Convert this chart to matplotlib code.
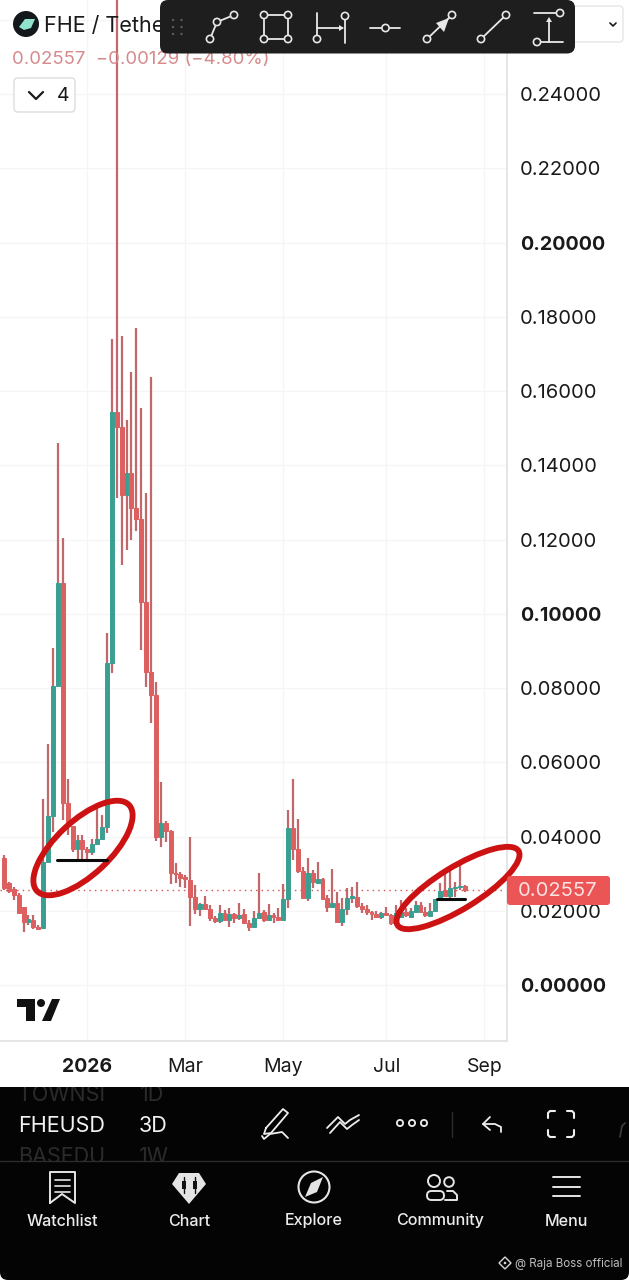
"""FHE/USDT 3D candlestick chart, mobile TradingView screenshot style."""

import matplotlib
matplotlib.use("Agg")
import matplotlib.pyplot as plt
import pandas as pd
from matplotlib.patches import Circle, Ellipse, FancyBboxPatch, Polygon, Rectangle

plt.rcParams["font.family"] = ["Inter", "DejaVu Sans"]

UP = "#3a9f91"
DOWN = "#de5f60"
WICK = "#c0686c"
GRID = "#f5f5f5"
BORDER = "#e2e2e2"

opens = [
    .0342, .0275, .0259, .0242, .0210, .0170, .0175, .0156, .0154, .0331,
    .0455, .0805, .1083, .0490, .0428, .0366, .0391, .0366, .0358, .0380,
    .0393, .0426, .0867, .1543, .1503, .1320, .1379, .1285, .1255, .1032,
    .0843, .0781, .0399, .0436, .0415, .0302, .0299, .0291, .0283, .0237,
    .0205, .0218, .0205, .0180, .0172, .0194, .0175, .0191, .0180, .0191,
    .0167, .0156, .0180, .0197, .0175, .0189, .0183, .0175, .0232, .0423,
    .0366, .0307, .0234, .0302, .0275, .0286, .0234, .0210, .0221, .0170,
    .0205, .0234, .0237, .0213, .0205, .0197, .0191, .0183, .0194, .0189,
    .0167, .0183, .0197, .0183, .0197, .0215, .0197, .0186, .0199, .0232,
    .0256, .0240, .0261, .0264, .0267,
]
highs = [
    .0350, .0277, .0264, .0248, .0210, .0189, .0189, .0162, .0501, .0649,
    .0908, .1460, .1204, .0555, .0428, .0404, .0404, .0372, .0393, .0482,
    .0458, .0948, .1740, .2800, .1748, .1522, .1651, .1770, .1554, .1325,
    .1638, .0816, .0547, .0442, .0418, .0329, .0304, .0296, .0399, .0269,
    .0221, .0240, .0215, .0186, .0215, .0202, .0207, .0194, .0221, .0205,
    .0175, .0199, .0302, .0202, .0218, .0194, .0207, .0272, .0471, .0555,
    .0447, .0318, .0342, .0310, .0331, .0288, .0242, .0312, .0250, .0234,
    .0261, .0264, .0277, .0221, .0215, .0199, .0199, .0197, .0210, .0191,
    .0215, .0229, .0207, .0207, .0226, .0224, .0210, .0221, .0232, .0275,
    .0304, .0310, .0277, .0331, .0269,
]
lows = [
    .0256, .0248, .0229, .0194, .0143, .0162, .0151, .0148, .0154, .0331,
    .0412, .0805, .0444, .0404, .0358, .0339, .0339, .0337, .0350, .0380,
    .0391, .0409, .0840, .1312, .1131, .1172, .1199, .1223, .0902, .0803,
    .0706, .0388, .0372, .0385, .0272, .0275, .0264, .0261, .0159, .0191,
    .0186, .0205, .0172, .0167, .0167, .0172, .0156, .0167, .0175, .0164,
    .0145, .0156, .0180, .0170, .0172, .0167, .0172, .0175, .0207, .0337,
    .0302, .0234, .0226, .0261, .0275, .0229, .0197, .0207, .0167, .0159,
    .0189, .0221, .0207, .0194, .0189, .0175, .0180, .0178, .0186, .0162,
    .0162, .0180, .0183, .0180, .0197, .0194, .0183, .0186, .0197, .0232,
    .0237, .0234, .0237, .0256, .0250,
]
closes = [
    .0261, .0253, .0242, .0194, .0170, .0178, .0156, .0151, .0331, .0455,
    .0805, .1083, .0490, .0428, .0366, .0391, .0366, .0358, .0380, .0393,
    .0426, .0867, .1543, .1503, .1320, .1379, .1285, .1255, .1032, .0843,
    .0781, .0399, .0436, .0415, .0302, .0299, .0288, .0286, .0237, .0205,
    .0218, .0205, .0180, .0172, .0194, .0175, .0191, .0180, .0189, .0167,
    .0156, .0180, .0194, .0175, .0189, .0183, .0175, .0232, .0423, .0366,
    .0307, .0234, .0302, .0277, .0286, .0232, .0210, .0221, .0170, .0205,
    .0234, .0240, .0213, .0205, .0197, .0191, .0183, .0194, .0189, .0167,
    .0194, .0197, .0189, .0199, .0215, .0197, .0189, .0199, .0232, .0253,
    .0240, .0261, .0264, .0267, .02557,
]

last_price = 0.02557
price_ticks = [0.00, 0.02, 0.04, 0.06, 0.08, 0.10, 0.12, 0.14, 0.16, 0.18, 0.20, 0.22, 0.24]
bold_prices = [0.00, 0.10, 0.20]
month_ticks = [("2026-01-01", "2026"), ("2026-03-01", "Mar"), ("2026-05-01", "May"),
               ("2026-07-01", "Jul"), ("2026-09-01", "Sep")]

W, H = 629, 1280
fig = plt.figure(figsize=(W / 100, H / 100), dpi=100, facecolor="white")

# chart pane, pixels 0-507 across and 0-1041 down
ax = fig.add_axes([0, (H - 1041) / H, 507 / W, 1041 / H])
ax.set_xlim(-0.816, 102.65)
ax.set_ylim(-0.01508, 0.26532)
ax.set_axisbelow(True)

bars = pd.date_range("2025-11-11", periods=104, freq="3D")
xticks = [int((bars >= pd.Timestamp(d)).argmax()) for d, _ in month_ticks]
ax.set_xticks(xticks)
ax.set_xticklabels([lab for _, lab in month_ticks], fontsize=14, color="#1a1a1a")
ax.get_xticklabels()[0].set_fontweight("bold")
ax.tick_params(axis="x", length=0, pad=12.5)
ax.set_yticks(price_ticks + [0.26])
ax.set_yticklabels([])
ax.tick_params(axis="y", length=0)
ax.grid(True, color=GRID, linewidth=1)
for name, spine in ax.spines.items():
    spine.set_visible(name in ("right", "bottom"))
    spine.set_color(BORDER)
    spine.set_linewidth(1.2)

for p in price_ticks:
    bold = p in bold_prices
    ax.annotate(f"{p:.5f}", (1, p), xycoords=("axes fraction", "data"), xytext=(13, -2),
                textcoords="offset pixels", va="center", ha="left", fontsize=14.2 if bold else 14.5,
                color="#1a1a1a", fontweight="bold" if bold else "normal", annotation_clip=False)

for i, (o, h, l, c) in enumerate(zip(opens, highs, lows, closes)):
    col = UP if c >= o else DOWN
    ax.vlines(i, l, h, color=WICK, linewidth=1.6, zorder=3)
    ax.bar(i, abs(c - o), bottom=min(o, c), width=0.8, color=col, edgecolor=col, linewidth=0.7, zorder=4)

ax.axhline(last_price, color="#d8504f", linewidth=1, dashes=(1, 3), zorder=2)

# screen-space layer for the app chrome and hand drawn marks
ui = fig.add_axes([0, 0, 1, 1], facecolor="none")
ui.set_xlim(0, W)
ui.set_ylim(H, 0)
ui.axis("off")


def line(xs, ys, color="#e8e8e8", lw=1.3, z=10, **kw):
    ui.plot(xs, ys, color=color, linewidth=lw, zorder=z, solid_capstyle="round", **kw)


def knob(x, y, r=3.6, face="#1e1e1e", edge="#e8e8e8", z=11):
    ui.add_patch(Circle((x, y), r, facecolor=face, edgecolor=edge, linewidth=1.2, zorder=z))


def label(x, y, s, size, color="#ffffff", ha="center", z=12, **kw):
    return ui.text(x, y, s, fontsize=size, color=color, ha=ha, va="center", zorder=z, **kw)


# hand drawn ellipses and support lines
ui.add_patch(Ellipse((83, 848), 126, 54, angle=-43, fill=False, edgecolor="#cc1213", linewidth=4.2, zorder=6))
ui.add_patch(Ellipse((458, 888), 142, 42, angle=-31.5, fill=False, edgecolor="#cc1213", linewidth=4.2, zorder=6))
line([57, 107], [860, 860], color="#0a0a0a", lw=2.2, z=7)
line([437, 465], [899, 899], color="#0a0a0a", lw=2.2, z=7)

# header
ui.add_patch(Circle((26, 24), 13, facecolor="#12181c", edgecolor="none", zorder=8))
ui.add_patch(Polygon([(19, 27), (25, 19), (35, 19), (31, 28), (24, 30)], facecolor="#8fe3cf", edgecolor="none", zorder=9))
label(44, 26, "FHE / Tether", 15.5, color="#1a1a1a", ha="left", z=8)
label(12, 59, "0.02557  \u22120.00129 (\u22124.80%)", 13.4, color="#d58a8c", ha="left", z=8)
ui.add_patch(FancyBboxPatch((14, 78), 61, 34, boxstyle="round,pad=0,rounding_size=4", facecolor="white",
                            edgecolor="#dddddd", linewidth=1, zorder=8))
line([29, 36, 43], [92, 99, 92], color="#1a1a1a", lw=1.6, z=9)
label(63.5, 96, "4", 14, color="#1a1a1a", z=9)
ui.add_patch(FancyBboxPatch((560, 6), 63, 36, boxstyle="round,pad=0,rounding_size=4", facecolor="white",
                            edgecolor="#e6e6e6", linewidth=1, zorder=8))
line([610, 613, 616], [23, 26, 23], color="#1a1a1a", lw=1.2, z=9)

# drawing toolbar
ui.add_patch(FancyBboxPatch((160, 0), 415, 53.5, boxstyle="round,pad=0,rounding_size=8", facecolor="#1e1e1e",
                            edgecolor="none", zorder=9))
for gx in (173, 181.5):
    for gy in (20, 27, 34):
        ui.add_patch(Circle((gx, gy), 1.2, facecolor="#5c5c5c", edgecolor="none", zorder=10))
line([210, 217, 234], [39, 22, 15])
for p in [(210, 39), (217, 22), (234, 15)]:
    knob(*p)
line([264, 288, 288, 264, 264], [15, 15, 39, 39, 15])
for p in [(264, 15), (288, 15), (264, 39), (288, 39)]:
    knob(*p)
line([317, 317], [13, 39])
line([345, 345], [16, 43])
line([317, 342], [28, 28])
ui.add_patch(Polygon([(344, 28), (339, 25), (339, 31)], facecolor="#e8e8e8", edgecolor="none", zorder=10))
knob(317, 39)
knob(345, 16)
line([370, 400], [28, 28])
knob(385.5, 28)
line([427, 452], [39, 15])
ui.add_patch(Polygon([(449, 18), (436, 23), (444, 32)], facecolor="#e8e8e8", edgecolor="none", zorder=10))
knob(427, 39)
knob(452, 15)
line([481, 506], [39, 15])
knob(481, 39)
knob(506, 15)
line([534, 560], [13, 13])
line([537, 563], [42, 42])
line([549, 549], [42, 20])
ui.add_patch(Polygon([(549, 17), (546, 22), (552, 22)], facecolor="#e8e8e8", edgecolor="none", zorder=10))
knob(560, 13)
knob(537, 42)

# TradingView mark
ui.add_patch(Polygon([(17, 999), (35, 999), (35, 1021), (26, 1021), (26, 1007), (17, 1007)], facecolor="#111111", zorder=8))
ui.add_patch(Circle((41, 1003), 4, facecolor="#111111", edgecolor="none", zorder=8))
ui.add_patch(Polygon([(52, 999), (60, 999), (51, 1021), (42, 1021)], facecolor="#111111", zorder=8))

# last price tag
ui.add_patch(FancyBboxPatch((507, 876), 103, 29, boxstyle="round,pad=0,rounding_size=3", facecolor="#ec5555",
                            edgecolor="none", zorder=8))
label(558, 891.5, "0.02557", 14.5, color="#fbe3e3", z=9)

# bottom app bars
ui.add_patch(Rectangle((0, 1087), W, 120, facecolor="#040404", edgecolor="none", zorder=8))
ui.add_patch(FancyBboxPatch((0, 1150), W, 130, boxstyle="round,pad=0,rounding_size=8", facecolor="#040404",
                            edgecolor="none", zorder=8))
row_clip = Rectangle((0, 1087), W, 74, transform=ui.transData)
for x, y, s, col in [(18, 1095, "TOWNSI", "#2b2b2b"), (140, 1095, "1D", "#2b2b2b"), (18, 1126, "FHEUSD", "#f2f2f2"),
                     (139, 1126, "3D", "#f2f2f2"), (18, 1157, "BASEDU", "#2b2b2b"), (139, 1157, "1W", "#2b2b2b")]:
    t = label(x, y, s, 15.5, color=col, ha="left", z=9)
    t.set_clip_path(row_clip)
    t.set_clip_on(True)
line([0, W], [1161, 1161], color="#2c2c2c", lw=1, z=9)
line([452, 452], [1112, 1137], color="#2c2c2c", lw=1, z=9)

# pen
line([266, 283, 288, 271, 264, 266], [1128, 1109, 1113, 1133, 1134, 1128], color="#eeeeee", z=10)
line([262, 264, 270, 282, 288], [1136, 1139, 1134, 1132, 1138], color="#eeeeee", z=10)
# zigzag
line([327, 338, 345, 350, 359], [1128, 1117, 1124, 1120, 1115], color="#eeeeee", z=10)
line([330, 340, 347, 352, 359], [1133, 1122, 1129, 1125, 1120], color="#eeeeee", z=10)
for dx in (400, 412, 424):
    ui.add_patch(Circle((dx, 1123), 3.1, facecolor="none", edgecolor="#eeeeee", linewidth=1.3, zorder=10))
# undo
line([490, 483, 490], [1117, 1124, 1130], color="#eeeeee", z=10)
line([483, 495, 501, 501], [1124, 1124, 1127, 1132], color="#eeeeee", z=10)
# fullscreen corners
for cx, cy, sx, sy in [(548, 1111, 1, 1), (574, 1111, -1, 1), (548, 1137, 1, -1), (574, 1137, -1, -1)]:
    line([cx + 7 * sx, cx + 2 * sx, cx, cx], [cy, cy, cy + 2 * sy, cy + 7 * sy], color="#eeeeee", lw=1.5, z=10)
line([620, 622, 625], [1137, 1126, 1123], color="#3a3a3a", z=10)

# nav icons
line([50, 50, 75, 75, 62, 50], [1203, 1172, 1172, 1203, 1194, 1203], color="#e6e6e6", lw=1.4, z=10)
for ly in (1180, 1186, 1192):
    line([55, 70], [ly, ly], color="#e6e6e6", lw=1.2, z=10)
ui.add_patch(Polygon([(172, 1184), (179, 1173), (199, 1173), (206, 1184), (189, 1204)], facecolor="#e4e4e4",
                     edgecolor="none", zorder=10))
for cx in (183.5, 194.5):
    line([cx, cx], [1177, 1193], color="#111111", lw=1, z=11)
    ui.add_patch(Rectangle((cx - 2, 1181), 4, 8, facecolor="#111111", edgecolor="none", zorder=11))
ui.add_patch(Circle((314, 1187), 15.5, facecolor="none", edgecolor="#e6e6e6", linewidth=1.5, zorder=10))
ui.add_patch(Polygon([(323, 1177), (317, 1192), (305, 1197), (311, 1183)], facecolor="#e4e4e4", edgecolor="none", zorder=10))
ui.add_patch(Circle((434, 1181), 6, facecolor="none", edgecolor="#e6e6e6", linewidth=1.4, zorder=10))
ui.add_patch(Circle((449, 1182), 4.8, facecolor="none", edgecolor="#e6e6e6", linewidth=1.4, zorder=10))
ui.add_patch(FancyBboxPatch((427, 1191), 17, 9, boxstyle="round,pad=0,rounding_size=4.5", facecolor="#040404",
                            edgecolor="#e6e6e6", linewidth=1.4, zorder=10))
line([447, 453, 457, 457, 445], [1191, 1191, 1195, 1200, 1200], color="#e6e6e6", lw=1.4, z=10)
for ly in (1177, 1187, 1196):
    line([553, 580], [ly, ly], color="#e6e6e6", lw=1.4, z=10)

for x, s in [(62, "Watchlist"), (189, "Chart"), (314, "Explore"), (440.5, "Community"), (566, "Menu")]:
    label(x, 1221, s, 11.6, color="#ececec", fontweight="medium")

# watermark
ui.add_patch(Polygon([(505, 1257), (511, 1263), (505, 1269), (499, 1263)], facecolor="none", edgecolor="#d8d8d8",
                     linewidth=1, zorder=10))
ui.add_patch(Circle((505, 1263), 1.3, facecolor="#d8d8d8", edgecolor="none", zorder=10))
label(515, 1264, "@ Raja Boss official", 8.3, color="#bdbdbd", ha="left")

fig.savefig("out.png", dpi=100)
